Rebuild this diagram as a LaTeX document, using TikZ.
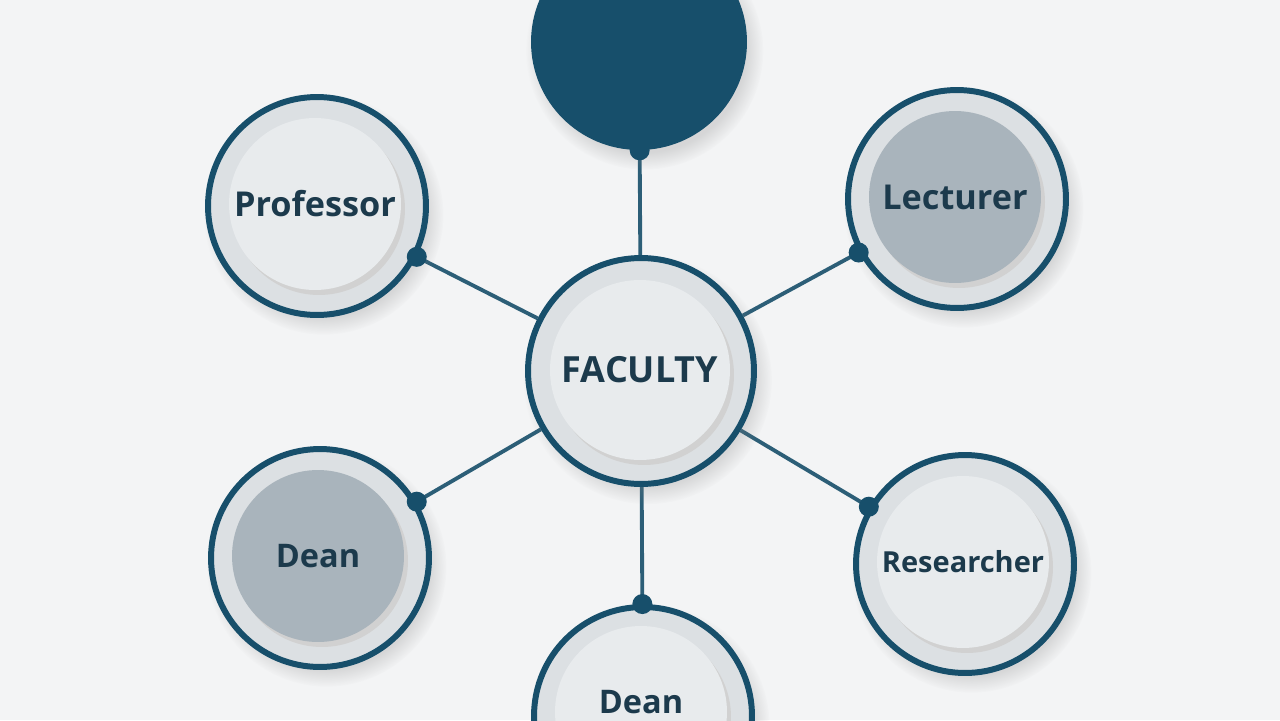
\documentclass[tikz,border=0pt]{standalone}
\usepackage{fontspec}
\setmainfont{Open Sans}
\usetikzlibrary{shadows,backgrounds}
\definecolor{ink}{HTML}{174F6B}
\definecolor{wire}{HTML}{2C5E77}
\definecolor{txt}{HTML}{1C3A4C}
\definecolor{paper}{HTML}{F3F4F5}
\definecolor{rim}{HTML}{DCE0E3}
\definecolor{pale}{HTML}{E8EBED}
\definecolor{slate}{HTML}{A9B4BC}
\begin{document}
\begin{tikzpicture}[x=0.02cm,y=-0.02cm,
  ring/.style={circle,draw=ink,line width=3.4pt,fill=rim,minimum size=4.36cm,
    circular drop shadow={shadow xshift=.12cm,shadow yshift=-.16cm,opacity=.25}},
  bigring/.style={ring,minimum size=4.52cm},
  disc/.style={circle,fill=pale,minimum size=3.44cm,inner sep=0pt,text=txt,
    font=\fontsize{19.5}{22}\selectfont\bfseries,
    drop shadow={shadow xshift=.08cm,shadow yshift=-.1cm,fill=black!18,opacity=1}},
  greydisc/.style={disc,fill=slate},
  link/.style={wire,line width=2.2pt},
  bulb/.style={fill=ink}]
\path[use as bounding box,clip] (0,0) rectangle (1280,720);
\begin{scope}[on background layer]
\fill[paper] (0,0) rectangle (1280,720);
\end{scope}

% centre and the six around it
\node[circle,fill=ink,minimum size=4.32cm,
  circular drop shadow={shadow xshift=.1cm,shadow yshift=-.16cm,opacity=.25}] (top) at (639,42) {};
\node[bigring] (fac) at (641,371) {};
\node[disc,minimum size=3.6cm,font=\fontsize{20.5}{24}\selectfont\bfseries] (facin) at (640,370) {FACULTY};

\node[ring] (prof) at (317,206) {};
\node[disc] (profin) at (315,204) {Professor};
\node[ring] (lect) at (957,199) {};
\node[greydisc] (lectin) at (955,197) {Lecturer};
\node[ring] (deanl) at (320,558) {};
\node[greydisc,font=\fontsize{18.5}{22}\selectfont\bfseries] (deanlin) at (318,556) {Dean};
\node[ring] (res) at (965,564) {};
\node[disc,font=\fontsize{16.5}{20}\selectfont\bfseries] (resin) at (963,562) {Researcher};
\node[ring] (deanb) at (643,716) {};
\node[disc] (deanbin) at (641,712) {};
\node[text=txt,font=\fontsize{18.5}{22}\selectfont\bfseries] (deanbtxt) at (641,702) {Dean};

\begin{scope}[on background layer]
\draw[link] (top) -- (fac) coordinate[pos=0] (b0);
\draw[link] (fac) -- (prof) coordinate[pos=1] (b1);
\draw[link] (fac) -- (lect) coordinate[pos=1] (b2);
\draw[link] (fac) -- (deanl) coordinate[pos=1] (b3);
\draw[link] (fac) -- (res) coordinate[pos=1] (b4);
\draw[link] (fac) -- (deanb) coordinate[pos=1] (b5);
\end{scope}
\foreach \b in {b0,b1,b2,b3,b4,b5}
  \fill[bulb] (\b) circle (10);
\end{tikzpicture}
\end{document}
